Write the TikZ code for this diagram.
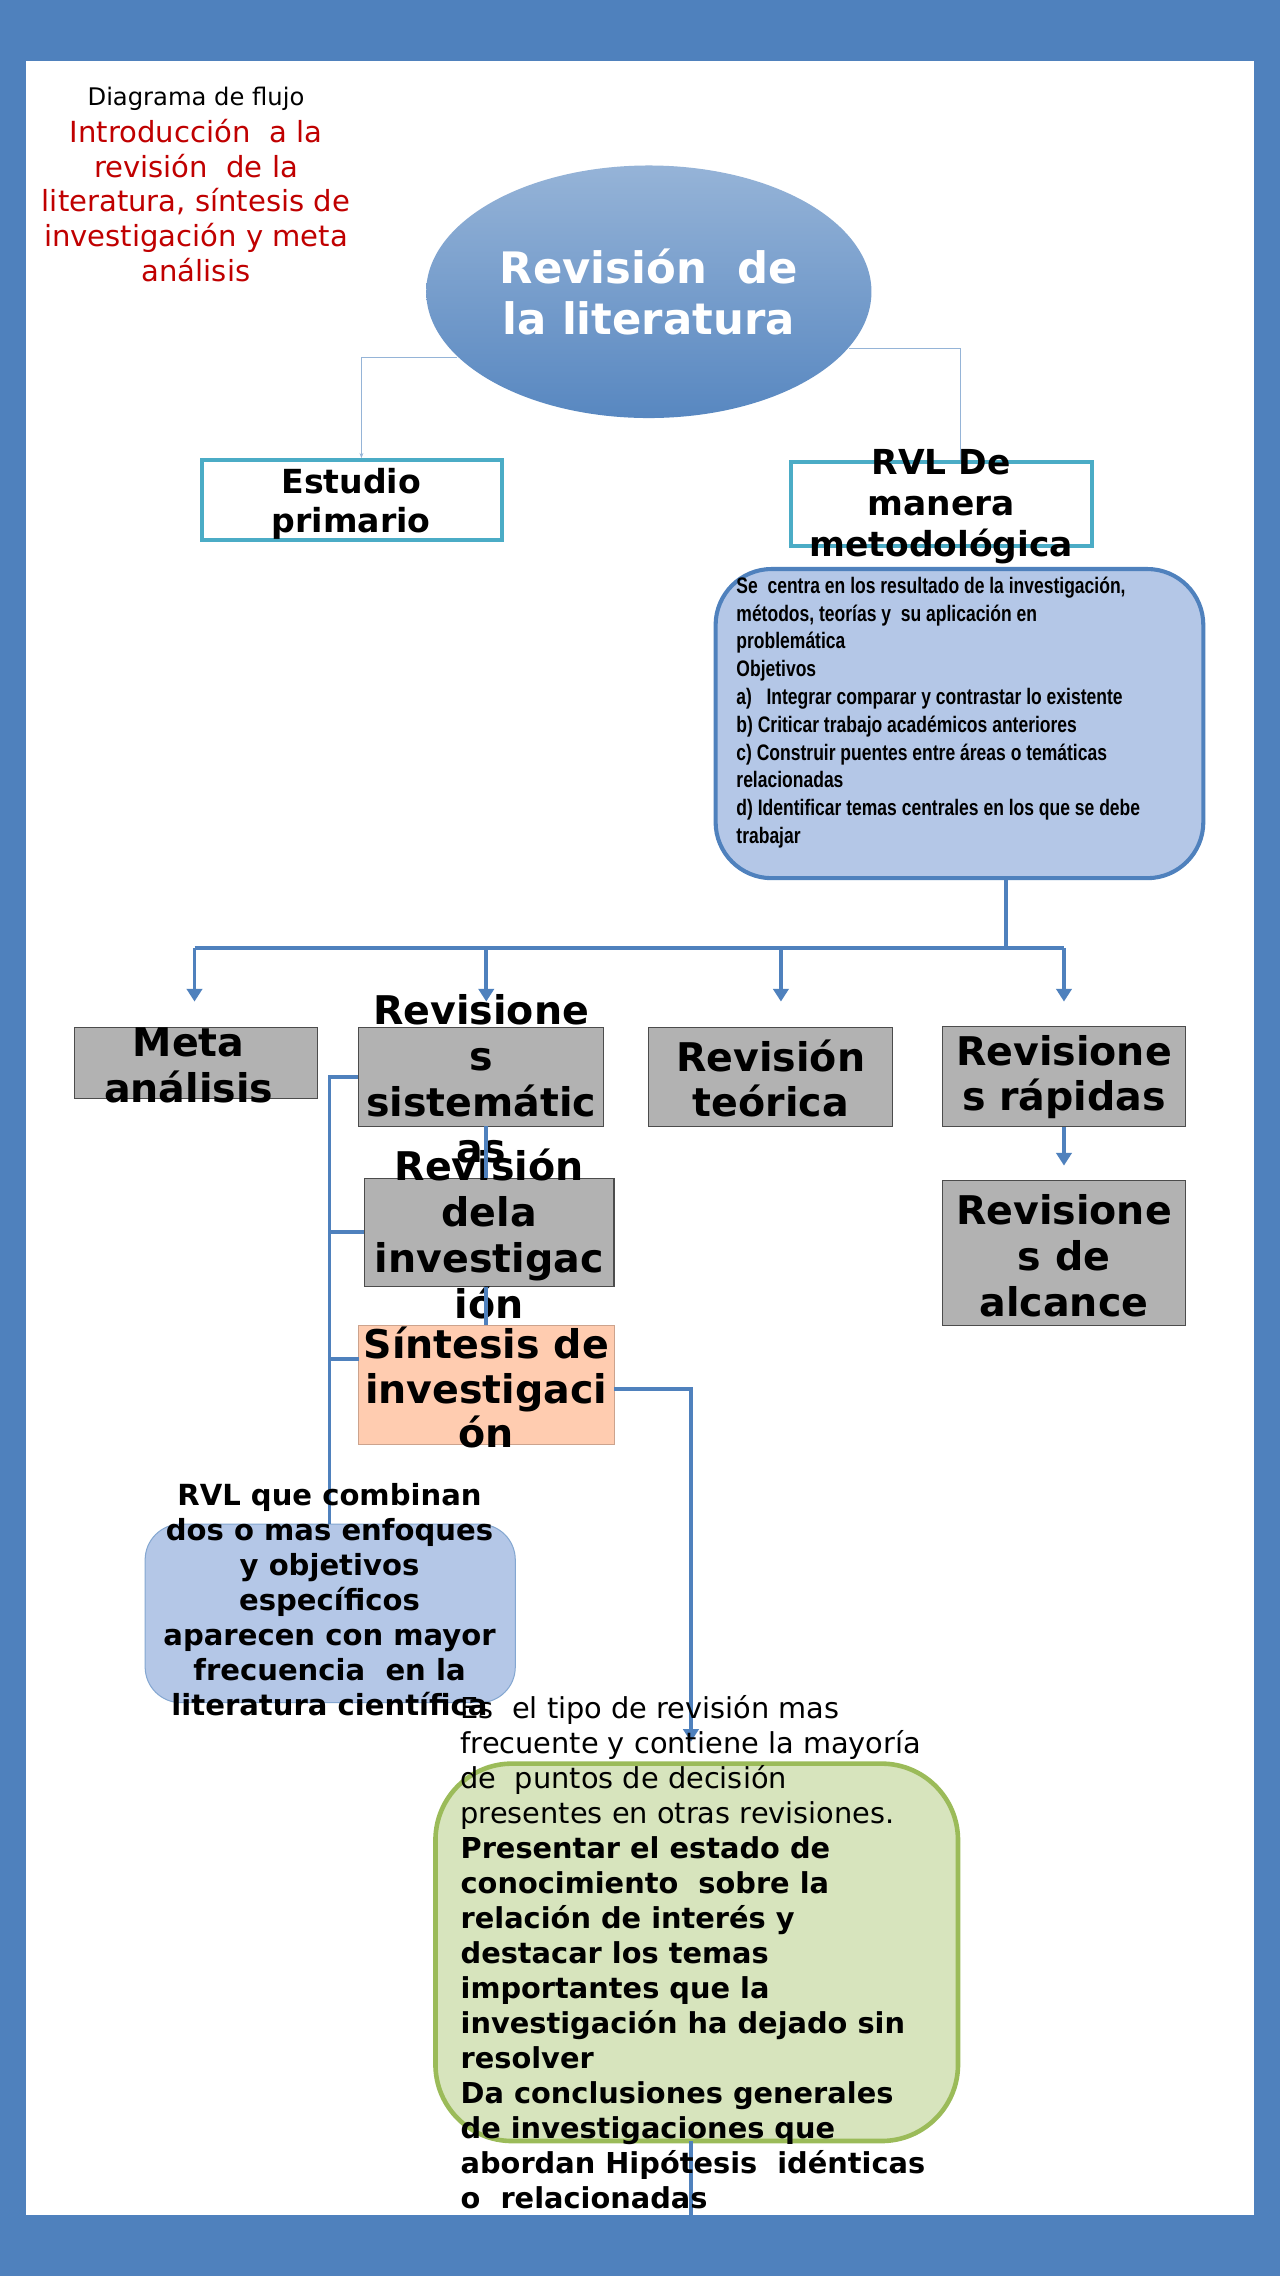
\documentclass[tikz,border=0pt]{standalone}
\usepackage{fontspec}
\setmainfont{DejaVu Sans}
\newfontfamily\narrowfont[FakeStretch=0.78]{Liberation Sans}
\usetikzlibrary{positioning,shapes.geometric,arrows.meta}
\definecolor{frameblue}{RGB}{79,129,189}
\definecolor{tealline}{RGB}{75,172,198}
\definecolor{lightblue}{RGB}{180,199,231}
\definecolor{graybox}{RGB}{178,178,178}
\definecolor{salmon}{RGB}{255,204,176}
\definecolor{lightgreen}{RGB}{215,228,189}
\definecolor{greenline}{RGB}{155,187,89}
\definecolor{darkred}{RGB}{192,0,0}
\tikzset{
  conn/.style={frameblue,line width=1.5pt},
  thinconn/.style={frameblue!60,line width=0.4pt},
  tealbox/.style={draw=tealline,line width=1.6pt,fill=white},
  grayrect/.style={draw=black!70,fill=graybox,line width=0.4pt},
  graytext/.style={font=\fontsize{15.5}{18}\selectfont\bfseries,align=center},
}
\begin{document}
\begin{tikzpicture}[x=0.02cm,y=-0.02cm]
\fill[frameblue] (0,0) rectangle (882,1568);
\fill[white] (18,42) rectangle (864,1526);
\useasboundingbox (0,0) rectangle (882,1568);
% titulo
\node (head) at (135,68) {\fontsize{9.5}{11}\selectfont Diagrama de flujo};
\node[text=darkred,align=center,font=\fontsize{11.4}{13.6}\selectfont] (sub) at (135,138)
  {Introducción\ \ a la\\revisión\ \ de la\\literatura, síntesis de\\investigación y meta\\análisis};
\node[ellipse,minimum width=302*0.02cm,minimum height=174*0.02cm,top color=frameblue!60,bottom color=frameblue!95,
  text=white,font=\fontsize{17}{20}\selectfont\bfseries,align=center] (rvl) at (447,201) {Revisión\ \ de\\la literatura};
% primer nivel
\node[tealbox,minimum width=207*0.02cm,minimum height=55*0.02cm] (ep) at (242.5,344.5) {};
\node[font=\fontsize{13}{15.5}\selectfont\bfseries,align=center] at (242,347) {Estudio\\primario};
\node[tealbox,minimum width=207*0.02cm,minimum height=58*0.02cm] (met) at (648.5,347) {};
\node[font=\fontsize{13.5}{16}\selectfont\bfseries,align=center] at (648.5,349) {RVL De\\manera\\metodológica};
\draw[thinconn,-{Stealth[length=2pt]}] (315,246) -- (249,246) -- (ep.north-|249,0);
\draw[thinconn] (585,240) -- (662,240) -- (met.north-|662,0);
% objetivos
\node[draw=frameblue,line width=1.6pt,fill=lightblue,rounded corners=22pt,minimum width=336*0.02cm,minimum height=213*0.02cm] (obj) at (661,498.5) {};
\node[anchor=north west,align=left,font=\narrowfont\fontsize{8.8}{10.9}\selectfont\bfseries,inner sep=0pt] at (507,397)
  {Se\ \ centra en los resultado de la investigación,\\métodos, teorías y\ \ su aplicación en\\problemática\\Objetivos\\a)\ \ \ Integrar comparar y contrastar lo existente\\b) Criticar trabajo académicos anteriores\\c) Construir puentes entre áreas o temáticas\\relacionadas\\d) Identificar temas centrales en los que se debe\\trabajar};
% segundo nivel
\node[grayrect,minimum width=168*0.02cm,minimum height=49*0.02cm] (meta) at (135,732.5) {};
\node[graytext] at (130,734) {Meta\\análisis};
\node[grayrect,minimum width=169*0.02cm,minimum height=68*0.02cm] (sis) at (331.5,742) {};
\node[graytext] at (331.5,743) {Revisione\\s\\sistemátic\\as};
\node[grayrect,minimum width=168*0.02cm,minimum height=68*0.02cm] (teo) at (531,742) {};
\node[graytext] at (531,743) {Revisión\\teórica};
\node[grayrect,minimum width=168*0.02cm,minimum height=69*0.02cm] (rap) at (733,741.5) {};
\node[graytext] at (733,742) {Revisione\\s rápidas};
\node[grayrect,minimum width=168*0.02cm,minimum height=100*0.02cm] (alc) at (733,863) {};
\node[graytext] at (733,865) {Revisione\\s de\\alcance};
\node[grayrect,minimum width=172*0.02cm,minimum height=74*0.02cm] (inv) at (337,849) {};
\node[graytext] at (337,850) {Revisión\\dela\\investigac\\ión};
\node[draw=salmon!80!black,fill=salmon,line width=0.3pt,minimum width=176*0.02cm,minimum height=82*0.02cm] (sin) at (335,954) {};
\node[graytext,font=\fontsize{15.5}{17.5}\selectfont\bfseries] at (335,956) {Síntesis de\\investigaci\\ón};
% conectores
\draw[conn] (obj.south-|693,0) -- (693,653);
\draw[conn] (134,653) -- (733,653);
\foreach \x in {134,335,538,733}
  \draw[conn,-{Triangle[length=5pt,width=6pt]}] (\x,653) -- (\x,690);
\draw[conn,-{Triangle[length=5pt,width=6pt]}] (rap.south) -- (733,803);
\draw[conn] (335,776) -- (inv.north-|335,0);
\draw[conn] (inv.south-|335,0) -- (sin.north-|335,0);
% combinan
\node[draw=frameblue!70,fill=lightblue,rounded corners=14pt,minimum width=255*0.02cm,minimum height=123*0.02cm] (comb) at (227.5,1111.5) {};
\draw[conn] (227,1050) -- (227,742) -- (sis.west);
\draw[conn] (227,849) -- (inv.west);
\draw[conn] (227,936) -- (247,936);
\node[font=\fontsize{11.4}{13.7}\selectfont\bfseries,align=center] at (227,1102)
  {RVL que combinan\\dos o mas enfoques\\y objetivos\\específicos\\aparecen con mayor\\frecuencia\ \ en la\\literatura científica};
% sintesis
\node[draw=greenline,fill=lightgreen,line width=1.8pt,rounded corners=30pt,minimum width=360*0.02cm,minimum height=260*0.02cm] (fin) at (480,1345) {};
\draw[conn,-{Triangle[length=5pt,width=6pt]}] (sin.east|-0,957) -- (476,957) -- (476,1200);
\draw[conn] (476,1475) -- (476,1526);
\node[anchor=north west,align=left,inner sep=0pt,font=\fontsize{11.3}{13.7}\selectfont] at (317,1168)
  {Es\ \ el tipo de revisión mas\\frecuente y contiene la mayoría\\de\ \ puntos de decisión\\presentes en otras revisiones.\\
  \bfseries Presentar el estado de\\\bfseries conocimiento\ \ sobre la\\\bfseries relación de interés y\\\bfseries destacar los temas\\\bfseries importantes que la\\\bfseries investigación ha dejado sin\\\bfseries resolver\\\bfseries Da conclusiones generales\\\bfseries de investigaciones que\\\bfseries abordan Hipótesis\ \ idénticas\\\bfseries o\ \ relacionadas};
\end{tikzpicture}
\end{document}
